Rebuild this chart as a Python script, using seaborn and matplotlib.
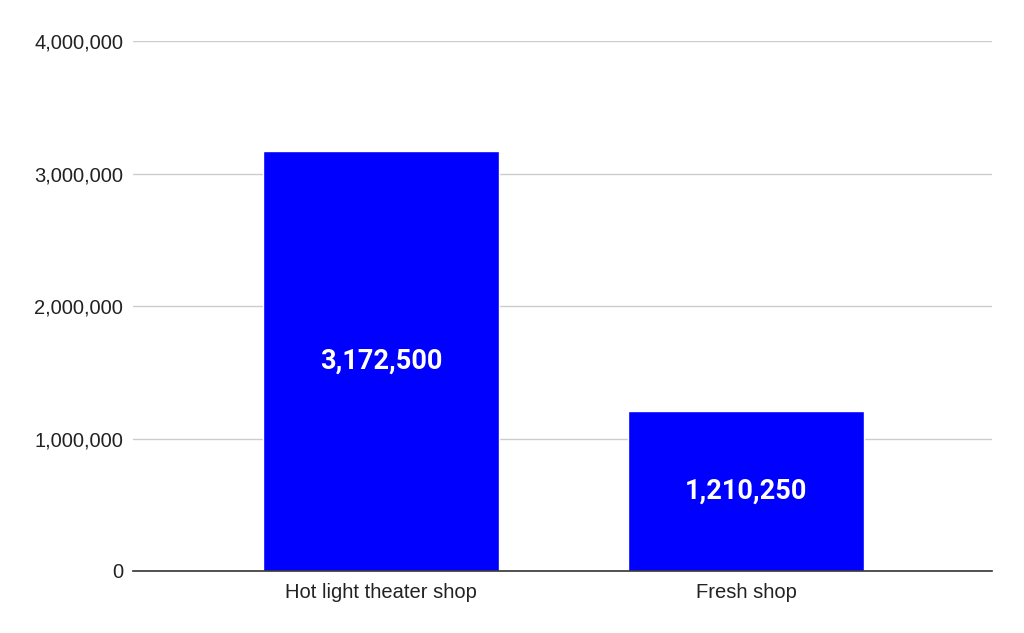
import pandas as pd
import numpy as np
import matplotlib
matplotlib.use('Agg')
import matplotlib.pyplot as plt
import seaborn as sns
from matplotlib.ticker import FuncFormatter

shops = ['Hot light theater shop', 'Fresh shop']
sales = [3172500, 1210250]

df = pd.DataFrame({'shop': shops, 'sales': sales})

sns.set_style('white')
plt.rcParams['font.family'] = ['Liberation Sans', 'DejaVu Sans']

fig = plt.figure(figsize=(10.24, 6.33), dpi=100)
ax = fig.add_axes([0.1299, 0.098, 0.8389, 0.837])

sns.barplot(data=df, x='shop', y='sales', color='#0000ff', saturation=1,
            width=0.647, ax=ax, zorder=3)

# value labels in the middle of each bar
for p, v in zip(ax.patches, sales):
    ax.text(p.get_x() + p.get_width() / 2, v / 2, f'{v:,}',
            ha='center', va='center', color='white', family='Roboto',
            fontsize=19.5, fontweight='bold', zorder=4)

ax.set_ylim(0, 4000000)
ax.set_xlim(-0.679, 1.674)
ax.set_yticks([0, 1000000, 2000000, 3000000, 4000000])
ax.yaxis.set_major_formatter(FuncFormatter(lambda x, _: f'{int(x):,}'))
ax.grid(axis='y', color='#cccccc', linewidth=1, zorder=0)
ax.set_xlabel('')
ax.set_ylabel('')
for s in ['top', 'right', 'left']:
    ax.spines[s].set_visible(False)
ax.spines['bottom'].set_color('#333333')
ax.spines['bottom'].set_linewidth(1.2)
ax.spines['bottom'].set_zorder(5)
ax.tick_params(axis='both', length=0, labelsize=14.5, labelcolor='#222222')
ax.tick_params(axis='y', pad=7)
ax.tick_params(axis='x', pad=9)

fig.savefig('out.png', dpi=100)
